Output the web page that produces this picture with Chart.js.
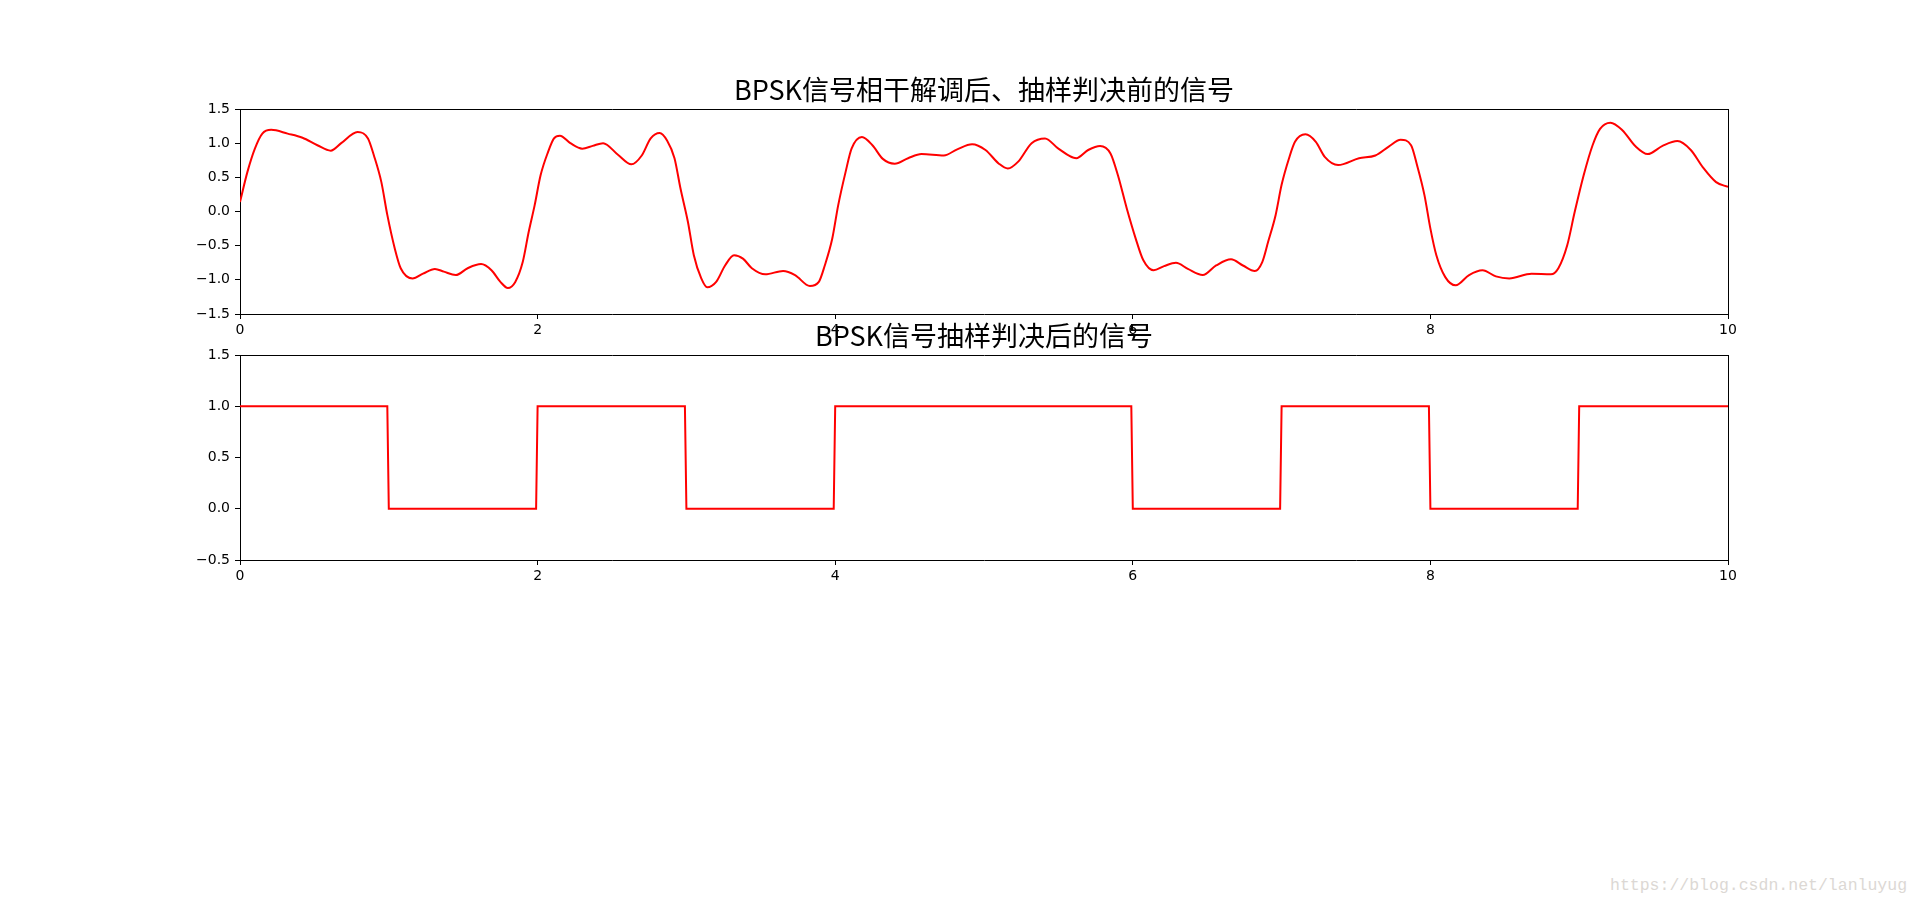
<!DOCTYPE html>
<html>
<head>
<meta charset="utf-8">
<script src="https://cdn.jsdelivr.net/npm/chart.js@4/dist/chart.umd.min.js"></script>
<style>
  body { margin: 0; background: #fff; width: 1920px; height: 906px; overflow: hidden; position: relative; }
  canvas { position: absolute; left: 0; }
  #top { top: 0; }
  #bottom { top: 300px; }
  .mark { position: absolute; left: 1610px; top: 876px; font: 16.5px "Liberation Mono", monospace; color: #dcd8d4; }
</style>
</head>
<body>
<canvas id="top" width="1920" height="340"></canvas>
<canvas id="bottom" width="1920" height="290"></canvas>
<div class="mark">https://blog.csdn.net/lanluyug</div>
<script>
// demodulated signal (before sampling decision)
var demodT = [0, 0.05, 0.10, 0.15, 0.21, 0.32, 0.42, 0.52, 0.61, 0.68, 0.79, 0.86, 0.90, 0.95, 0.99,
  1.04, 1.08, 1.16, 1.23, 1.31, 1.37, 1.45, 1.53, 1.62, 1.69, 1.75, 1.80, 1.85, 1.90, 1.94, 1.98,
  2.02, 2.07, 2.11, 2.15, 2.22, 2.30, 2.37, 2.44, 2.54, 2.63, 2.70, 2.76, 2.82, 2.87, 2.92, 2.96,
  3.01, 3.05, 3.10, 3.14, 3.20, 3.26, 3.32, 3.38, 3.44, 3.53, 3.65, 3.73, 3.83, 3.89, 3.93, 3.98,
  4.02, 4.07, 4.11, 4.18, 4.25, 4.32, 4.40, 4.49, 4.58, 4.73, 4.82, 4.92, 5.01, 5.10, 5.16, 5.23,
  5.32, 5.41, 5.50, 5.62, 5.70, 5.78, 5.85, 5.90, 5.96, 6.02, 6.07, 6.14, 6.21, 6.29, 6.37, 6.47,
  6.56, 6.66, 6.74, 6.82, 6.87, 6.91, 6.96, 7.00, 7.05, 7.09, 7.16, 7.23, 7.29, 7.38, 7.52, 7.63,
  7.72, 7.80, 7.87, 7.91, 7.96, 8.00, 8.04, 8.10, 8.17, 8.26, 8.35, 8.44, 8.53, 8.68, 8.81, 8.86,
  8.92, 8.97, 9.03, 9.09, 9.14, 9.21, 9.29, 9.38, 9.46, 9.56, 9.66, 9.75, 9.83, 9.92, 10.0];
var demodV = [0.14, 0.58, 0.92, 1.14, 1.195, 1.14, 1.08, 0.97, 0.89, 1.0, 1.165, 1.07, 0.82, 0.43, -0.05,
  -0.54, -0.83, -0.98, -0.91, -0.84, -0.88, -0.93, -0.83, -0.77, -0.86, -1.03, -1.12, -1.03, -0.74, -0.30, 0.09,
  0.53, 0.87, 1.07, 1.11, 1.0, 0.92, 0.96, 1.0, 0.83, 0.69, 0.82, 1.07, 1.15, 1.04, 0.78, 0.34,
  -0.15, -0.64, -0.98, -1.11, -1.03, -0.79, -0.64, -0.69, -0.83, -0.92, -0.87, -0.93, -1.09, -1.03, -0.79, -0.40,
  0.09, 0.58, 0.92, 1.09, 0.97, 0.77, 0.70, 0.78, 0.84, 0.82, 0.91, 0.985, 0.90, 0.70, 0.63, 0.73,
  1.0, 1.07, 0.92, 0.78, 0.90, 0.96, 0.85, 0.53, 0.04, -0.40, -0.71, -0.86, -0.80, -0.75, -0.84, -0.93,
  -0.79, -0.70, -0.79, -0.87, -0.74, -0.44, -0.05, 0.39, 0.78, 1.02, 1.13, 1.02, 0.80, 0.68, 0.78, 0.82,
  0.95, 1.05, 0.97, 0.68, 0.24, -0.25, -0.64, -0.96, -1.08, -0.93, -0.86, -0.95, -0.98, -0.91, -0.92, -0.83,
  -0.49, -0.005, 0.53, 0.97, 1.21, 1.30, 1.19, 0.95, 0.84, 0.96, 1.03, 0.90, 0.65, 0.43, 0.36];

// decided bits after sampling
var decideT = [0, 0.99, 1, 1.99, 2, 2.99, 3, 3.99, 4, 5.99, 6, 6.99, 7, 7.99, 8, 8.99, 9, 10];
var decideV = [1, 1, 0, 0, 1, 1, 0, 0, 1, 1, 0, 0, 1, 1, 0, 0, 1, 1];

var xTicks = [0, 2, 4, 6, 8, 10];
var yTicksTop = [-1.5, -1.0, -0.5, 0.0, 0.5, 1.0, 1.5];
var yTicksBottom = [-0.5, 0.0, 0.5, 1.0, 1.5];

var titleTop = 'BPSK信号相干解调后、抽样判决前的信号';
var titleBottom = 'BPSK信号抽样判决后的信号';

var tickFont = { family: 'DejaVu Sans', size: 14 };

function fmt(v) {
  return v.toFixed(1).replace('-', '\u2212');
}

function makeChart(id, t, v, yTicks, title, opts) {
  var pts = t.map((x, i) => ({ x: x, y: v[i] }));
  var ymin = yTicks[0], ymax = yTicks[yTicks.length - 1];
  return new Chart(document.getElementById(id), {
    type: 'line',
    data: {
      datasets: [{
        data: pts,
        borderColor: '#ff0000',
        borderWidth: 2,
        pointRadius: 0,
        fill: false,
        cubicInterpolationMode: opts.smooth ? 'monotone' : 'default',
        tension: 0
      }]
    },
    options: {
      responsive: false,
      animation: false,
      devicePixelRatio: 1,
      // 48 + 192 = plot left (240), right axis box 192 -> plot right 1728,
      // and the title box (48..1920) is centred over the plot
      layout: { padding: { left: 48, right: 0, top: opts.padTop, bottom: 0 } },
      plugins: {
        legend: { display: false },
        tooltip: { enabled: false },
        title: {
          display: true,
          text: title,
          color: '#000',
          font: { family: '"Noto Sans CJK SC"', size: 27, weight: 'normal', lineHeight: 1.2 },
          padding: { top: 0, bottom: opts.titleGap }
        }
      },
      scales: {
        x: {
          type: 'linear', min: 0, max: 10,
          afterBuildTicks: s => { s.ticks = xTicks.map(x => ({ value: x })); },
          afterFit: s => { s.height = opts.xHeight; },
          ticks: { color: '#000', font: tickFont, padding: 3, maxRotation: 0, callback: x => String(x) },
          grid: { drawOnChartArea: false, drawTicks: true, tickLength: 5, tickColor: '#000' },
          border: { display: true, color: '#000', width: 1 }
        },
        y: {
          type: 'linear', min: ymin, max: ymax,
          afterBuildTicks: s => { s.ticks = yTicks.map(y => ({ value: y })); },
          afterFit: s => { s.width = 192; },
          ticks: { color: '#000', font: tickFont, padding: 5, callback: y => fmt(y) },
          grid: { drawOnChartArea: false, drawTicks: true, tickLength: 5, tickColor: '#000' },
          border: { display: true, color: '#000', width: 1 }
        },
        x2: {
          type: 'linear', position: 'top', min: 0, max: 10,
          afterFit: s => { s.height = 0; },
          ticks: { display: false },
          grid: { drawOnChartArea: false, drawTicks: false },
          border: { display: true, color: '#000', width: 1 }
        },
        y2: {
          type: 'linear', position: 'right', min: ymin, max: ymax,
          afterFit: s => { s.width = 192; },
          ticks: { display: false },
          grid: { drawOnChartArea: false, drawTicks: false },
          border: { display: true, color: '#000', width: 1 }
        }
      }
    }
  });
}

makeChart('top', demodT, demodV, yTicksTop, titleTop,
  { smooth: true, padTop: 73.6, titleGap: 3, xHeight: 26 });
makeChart('bottom', decideT, decideV, yTicksBottom, titleBottom,
  { smooth: false, padTop: 19.8, titleGap: 2.8, xHeight: 30 });
</script>
</body>
</html>
